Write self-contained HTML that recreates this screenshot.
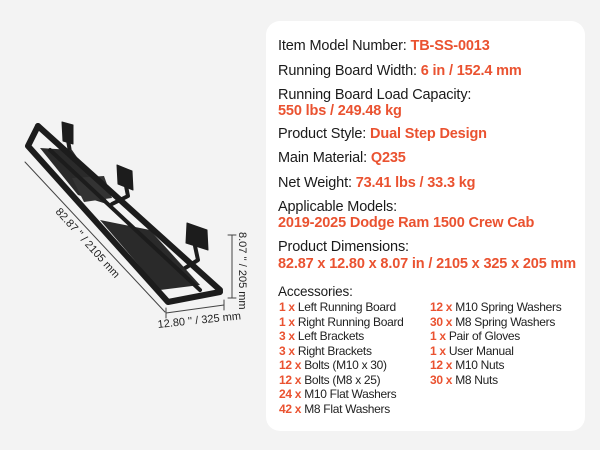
<!DOCTYPE html>
<html><head><style>
body{margin:0;width:600px;height:450px;background:#f3f3f3;position:relative;overflow:hidden;font-family:"Liberation Sans",sans-serif;}
.card{position:absolute;left:266px;top:21px;width:319px;height:410px;background:#fff;border-radius:14px;}
.t{position:absolute;left:278px;font-size:14.5px;color:#1a1a1a;letter-spacing:-0.15px;white-space:nowrap;line-height:16px;}
.o{color:#ea5230;font-weight:bold;}
.a{position:absolute;font-size:12px;color:#222;letter-spacing:-0.3px;white-space:nowrap;line-height:14px;}
</style></head><body>
<div class="card"></div>
<div class="t" style="top:38px">Item Model Number: <span class="o">TB-SS-0013</span></div>
<div class="t" style="top:63px">Running Board Width: <span class="o">6 in / 152.4 mm</span></div>
<div class="t" style="top:87px">Running Board Load Capacity:</div>
<div class="t" style="top:103px"><span class="o">550 lbs / 249.48 kg</span></div>
<div class="t" style="top:126px">Product Style: <span class="o">Dual Step Design</span></div>
<div class="t" style="top:150px">Main Material: <span class="o">Q235</span></div>
<div class="t" style="top:175px">Net Weight: <span class="o">73.41 lbs / 33.3 kg</span></div>
<div class="t" style="top:199px">Applicable Models:</div>
<div class="t" style="top:215px"><span class="o">2019-2025 Dodge Ram 1500 Crew Cab</span></div>
<div class="t" style="top:239px">Product Dimensions:</div>
<div class="t" style="top:256px"><span class="o">82.87 x 12.80 x 8.07 in / 2105 x 325 x 205 mm</span></div>
<div class="t" style="top:284px;font-size:13.5px">Accessories:</div>
<div class="a" style="left:279px;top:300px"><span class="o">1 x</span> Left Running Board</div>
<div class="a" style="left:279px;top:314.5px"><span class="o">1 x</span> Right Running Board</div>
<div class="a" style="left:279px;top:329px"><span class="o">3 x</span> Left Brackets</div>
<div class="a" style="left:279px;top:343.5px"><span class="o">3 x</span> Right Brackets</div>
<div class="a" style="left:279px;top:358px"><span class="o">12 x</span> Bolts (M10 x 30)</div>
<div class="a" style="left:279px;top:372.5px"><span class="o">12 x</span> Bolts (M8 x 25)</div>
<div class="a" style="left:279px;top:387px"><span class="o">24 x</span> M10 Flat Washers</div>
<div class="a" style="left:279px;top:401.5px"><span class="o">42 x</span> M8 Flat Washers</div>
<div class="a" style="left:430px;top:300px"><span class="o">12 x</span> M10 Spring Washers</div>
<div class="a" style="left:430px;top:314.5px"><span class="o">30 x</span> M8 Spring Washers</div>
<div class="a" style="left:430px;top:329px"><span class="o">1 x</span> Pair of Gloves</div>
<div class="a" style="left:430px;top:343.5px"><span class="o">1 x</span> User Manual</div>
<div class="a" style="left:430px;top:358px"><span class="o">12 x</span> M10 Nuts</div>
<div class="a" style="left:430px;top:372.5px"><span class="o">30 x</span> M8 Nuts</div>
<svg width="260" height="340" style="position:absolute;left:0;top:80px" viewBox="0 80 260 340">
<g stroke="#1c1c1c" fill="none" stroke-linecap="round" stroke-linejoin="round">
<path d="M68 140 L70 152 L55 156" stroke-width="4"/>
<polygon points="62,122 73,125 73,144 63,141" fill="#1c1c1c" stroke-width="1"/>
<path d="M126 186 L128 196 L112 204" stroke-width="4"/>
<polygon points="117,165 132,171 133,190 118,184" fill="#1c1c1c" stroke-width="1"/>
<path d="M195 246 L198 260 L182 270" stroke-width="4"/>
<polygon points="187,223 207,230 208,250 186,243" fill="#1c1c1c" stroke-width="1"/>
<polygon points="40,148 72,150 110,205 78,195" fill="#2a2a2a" stroke="none"/>
<polygon points="72,178 104,176 112,198 84,202" fill="#333" stroke="none"/>
<polygon points="100,220 150,230 200,285 160,290" fill="#2a2a2a" stroke="none"/>
<path d="M38 126 L220 290" stroke-width="6"/>
<path d="M38 126 L28 146 L168 302 L220 292" stroke-width="6"/>
<path d="M50 150 L200 290" stroke-width="4"/>
<path d="M25 162 L165 312" stroke="#444" stroke-width="1"/>
<path d="M166 313 L224 305" stroke="#444" stroke-width="1"/>
<path d="M166 308 L166 318 M224 300 L224 310" stroke="#444" stroke-width="1"/>
<path d="M232 235 L232 298 M228 235 L236 235 M228 298 L236 298" stroke="#444" stroke-width="1"/>
</g>
<g font-family="Liberation Sans" font-size="11" fill="#222">
<text transform="translate(55 212) rotate(48)">82.87 '' / 2105 mm</text>
<text transform="translate(158 328) rotate(-6)">12.80 '' / 325 mm</text>
<text transform="translate(239 232) rotate(90)">8.07 '' / 205 mm</text>
</g>
</svg>
</body></html>
